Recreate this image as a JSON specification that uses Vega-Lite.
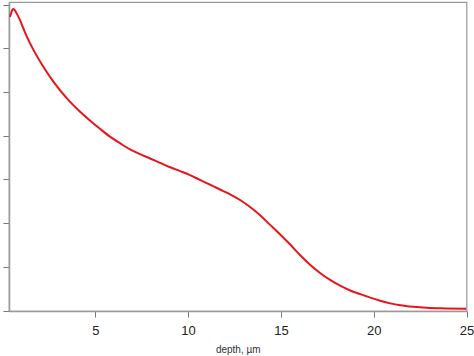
{
  "$schema": "https://vega.github.io/schema/vega-lite/v6.json",
  "autosize": {"type": "none"},
  "width": 457.5,
  "height": 309,
  "padding": {"left": 9, "top": 2, "right": 7.5, "bottom": 45},
  "background": "white",
  "config": {
    "view": {"stroke": "#999999", "strokeWidth": 1.2},
    "font": "Liberation Sans"
  },
  "data": {
    "values": [
      {"depth": 0.40, "v": 6.72},
      {"depth": 0.46, "v": 6.80},
      {"depth": 0.52, "v": 6.87},
      {"depth": 0.58, "v": 6.90},
      {"depth": 0.65, "v": 6.88},
      {"depth": 0.76, "v": 6.80},
      {"depth": 0.94, "v": 6.65},
      {"depth": 1.10, "v": 6.48},
      {"depth": 1.30, "v": 6.28},
      {"depth": 1.66, "v": 5.97},
      {"depth": 2.20, "v": 5.58},
      {"depth": 2.74, "v": 5.24},
      {"depth": 3.46, "v": 4.86},
      {"depth": 4.18, "v": 4.55},
      {"depth": 4.71, "v": 4.35},
      {"depth": 5.25, "v": 4.16},
      {"depth": 5.79, "v": 3.98},
      {"depth": 6.33, "v": 3.83},
      {"depth": 6.87, "v": 3.69},
      {"depth": 7.41, "v": 3.58},
      {"depth": 7.95, "v": 3.48},
      {"depth": 8.49, "v": 3.38},
      {"depth": 9.03, "v": 3.28},
      {"depth": 9.57, "v": 3.19},
      {"depth": 10.10, "v": 3.10},
      {"depth": 10.64, "v": 2.99},
      {"depth": 11.18, "v": 2.88},
      {"depth": 11.72, "v": 2.77},
      {"depth": 12.26, "v": 2.66},
      {"depth": 12.80, "v": 2.53},
      {"depth": 13.34, "v": 2.37},
      {"depth": 13.88, "v": 2.18},
      {"depth": 14.42, "v": 1.96},
      {"depth": 14.96, "v": 1.74},
      {"depth": 15.50, "v": 1.51},
      {"depth": 16.03, "v": 1.27},
      {"depth": 16.57, "v": 1.05},
      {"depth": 17.11, "v": 0.86},
      {"depth": 17.65, "v": 0.70},
      {"depth": 18.19, "v": 0.57},
      {"depth": 18.73, "v": 0.46},
      {"depth": 19.27, "v": 0.375},
      {"depth": 19.81, "v": 0.295},
      {"depth": 20.35, "v": 0.225},
      {"depth": 20.89, "v": 0.165},
      {"depth": 21.43, "v": 0.12},
      {"depth": 22.14, "v": 0.085},
      {"depth": 22.86, "v": 0.064},
      {"depth": 23.85, "v": 0.05},
      {"depth": 24.98, "v": 0.04}
    ]
  },
  "mark": {"type": "line", "color": "#e8141c", "strokeWidth": 2, "interpolate": "monotone"},
  "encoding": {
    "x": {
      "field": "depth",
      "type": "quantitative",
      "scale": {"domain": [0.35, 25], "nice": false, "zero": false},
      "axis": {
        "values": [5, 10, 15, 20, 25],
        "title": "depth, µm",
        "grid": false,
        "domainColor": "#999999",
        "domainWidth": 1.5,
        "tickColor": "#777777",
        "tickSize": 6,
        "labelFontSize": 13,
        "labelColor": "#222222",
        "labelPadding": 7,
        "labelFlush": false,
        "titleFontSize": 10,
        "titleFontWeight": "normal",
        "titleColor": "#333333",
        "titlePadding": 7
      }
    },
    "y": {
      "field": "v",
      "type": "quantitative",
      "scale": {"domain": [-0.01, 7.06], "nice": false, "zero": false},
      "axis": {
        "values": [0, 1, 2, 3, 4, 5, 6, 7],
        "title": null,
        "labels": false,
        "grid": false,
        "domainColor": "#999999",
        "domainWidth": 1.5,
        "tickColor": "#777777",
        "tickSize": 6
      }
    }
  }
}
